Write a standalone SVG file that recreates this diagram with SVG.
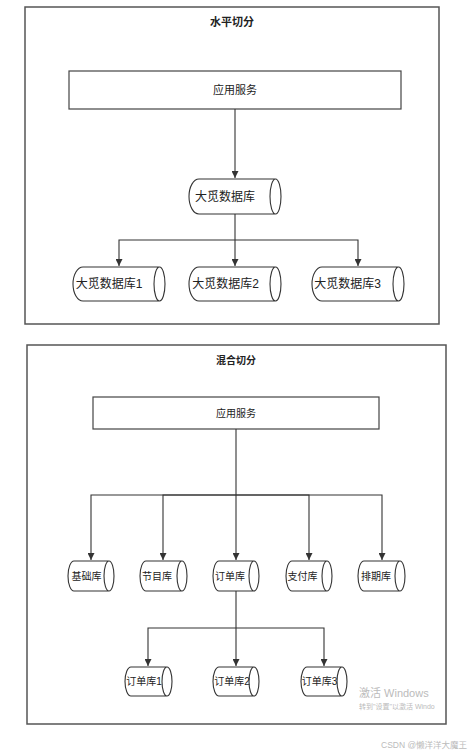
<svg xmlns="http://www.w3.org/2000/svg" width="474" height="754" viewBox="0 0 474 754">
<defs>
<style>
text{font-family:"Liberation Sans","Noto Sans CJK SC",sans-serif;fill:#222}
.frame{fill:#fff;stroke:#555;stroke-width:1.5}
.box{fill:#fff;stroke:#444;stroke-width:1.2}
.cyl{fill:#fff;stroke:#333;stroke-width:1.1}
.edge{fill:none;stroke:#333;stroke-width:1.1}
.t{font-weight:bold;text-anchor:middle}
.m{text-anchor:middle}
.wm{fill:#bbb}
</style>
<marker id="ah" viewBox="0 0 10 10" refX="10" refY="5" markerWidth="7" markerHeight="7" markerUnits="userSpaceOnUse" orient="auto">
<path d="M0,0 L10,5 L0,10 Z" fill="#333"/>
</marker>
</defs>
<rect width="474" height="754" fill="#fff"/>

<g id="frame-horizontal">
<rect class="frame" x="25" y="7" width="414" height="317"/>
<text class="t" x="232" y="26" font-size="11">水平切分</text>
</g>
<g id="app1">
<rect class="box" x="69" y="71" width="332" height="38"/>
<text class="m" x="235" y="94" font-size="11">应用服务</text>
</g>
<g id="db-main">
<path class="cyl" d="M199,179 L275.5,179 A5.5,17.5 0 0 1 275.5,214 L199,214 A10,17.5 0 0 1 199,179 Z M275.5,179 A5.5,17.5 0 0 0 275.5,214"/>
<text class="m" x="225" y="200.5" font-size="12">大觅数据库</text>
</g>
<g id="db1">
<path class="cyl" d="M83,267 L159.5,267 A5.5,17 0 0 1 159.5,301 L83,301 A10,17 0 0 1 83,267 Z M159.5,267 A5.5,17 0 0 0 159.5,301"/>
<text class="m" x="109" y="288" font-size="12">大觅数据库1</text>
</g>
<g id="db2">
<path class="cyl" d="M199,267 L275.5,267 A5.5,17 0 0 1 275.5,301 L199,301 A10,17 0 0 1 199,267 Z M275.5,267 A5.5,17 0 0 0 275.5,301"/>
<text class="m" x="225.5" y="288" font-size="12">大觅数据库2</text>
</g>
<g id="db3">
<path class="cyl" d="M322,267 L398.5,267 A5.5,17 0 0 1 398.5,301 L322,301 A10,17 0 0 1 322,267 Z M398.5,267 A5.5,17 0 0 0 398.5,301"/>
<text class="m" x="347.5" y="288" font-size="12">大觅数据库3</text>
</g>

<g id="frame-mixed">
<rect class="frame" x="27" y="345" width="419" height="379"/>
<text class="t" x="236" y="364" font-size="10">混合切分</text>
</g>
<g id="app2">
<rect class="box" x="93" y="397" width="286" height="32"/>
<text class="m" x="236" y="417" font-size="10">应用服务</text>
</g>
<g id="base">
<path class="cyl" d="M74,561 L109,561 A5,15 0 0 1 109,591 L74,591 A6,15 0 0 1 74,561 Z M109,561 A5,15 0 0 0 109,591"/>
<text class="m" x="86.5" y="579.5" font-size="10">基础库</text>
</g>
<g id="program">
<path class="cyl" d="M146,561 L182,561 A5,15 0 0 1 182,591 L146,591 A6,15 0 0 1 146,561 Z M182,561 A5,15 0 0 0 182,591"/>
<text class="m" x="157" y="579.5" font-size="10">节目库</text>
</g>
<g id="order">
<path class="cyl" d="M219,561 L254,561 A5,15 0 0 1 254,591 L219,591 A6,15 0 0 1 219,561 Z M254,561 A5,15 0 0 0 254,591"/>
<text class="m" x="230" y="579.5" font-size="10">订单库</text>
</g>
<g id="pay">
<path class="cyl" d="M292,561 L327,561 A5,15 0 0 1 327,591 L292,591 A6,15 0 0 1 292,561 Z M327,561 A5,15 0 0 0 327,591"/>
<text class="m" x="302.5" y="579.5" font-size="10">支付库</text>
</g>
<g id="schedule">
<path class="cyl" d="M364,561 L400,561 A5,15 0 0 1 400,591 L364,591 A6,15 0 0 1 364,561 Z M400,561 A5,15 0 0 0 400,591"/>
<text class="m" x="376" y="579.5" font-size="10">排期库</text>
</g>
<g id="order1">
<path class="cyl" d="M131,667 L167,667 A5,14.5 0 0 1 167,696 L131,696 A6,14.5 0 0 1 131,667 Z M167,667 A5,14.5 0 0 0 167,696"/>
<text class="m" x="144" y="685" font-size="10">订单库1</text>
</g>
<g id="order2">
<path class="cyl" d="M219,667 L254,667 A5,14.5 0 0 1 254,696 L219,696 A6,14.5 0 0 1 219,667 Z M254,667 A5,14.5 0 0 0 254,696"/>
<text class="m" x="232" y="685" font-size="10">订单库2</text>
</g>
<g id="order3">
<path class="cyl" d="M307,667 L342,667 A5,14.5 0 0 1 342,696 L307,696 A6,14.5 0 0 1 307,667 Z M342,667 A5,14.5 0 0 0 342,696"/>
<text class="m" x="319.5" y="685" font-size="10">订单库3</text>
</g>

<g id="connectors">
<path class="edge" d="M235,109 L235,178" marker-end="url(#ah)"/>
<path class="edge" d="M235,214 L235,266" marker-end="url(#ah)"/>
<path class="edge" d="M235,240 L119,240 L119,266" marker-end="url(#ah)"/>
<path class="edge" d="M235,240 L358,240 L358,266" marker-end="url(#ah)"/>
<path class="edge" d="M236,429 L236,560" marker-end="url(#ah)"/>
<path class="edge" d="M236,495 L91,495 L91,560" marker-end="url(#ah)"/>
<path class="edge" d="M236,495 L163,495 L163,560" marker-end="url(#ah)"/>
<path class="edge" d="M236,495 L309,495 L309,560" marker-end="url(#ah)"/>
<path class="edge" d="M236,495 L382,495 L382,560" marker-end="url(#ah)"/>
<path class="edge" d="M236,591 L236,666" marker-end="url(#ah)"/>
<path class="edge" d="M236,628 L148,628 L148,666" marker-end="url(#ah)"/>
<path class="edge" d="M236,628 L324,628 L324,666" marker-end="url(#ah)"/>
</g>

<g id="watermarks">
<text class="wm" x="359" y="697" font-size="11">激活 Windows</text>
<text class="wm" x="359" y="709" font-size="7">转到"设置"以激活 Windo</text>
<text class="wm" x="381" y="748" font-size="8.5">CSDN @懒洋洋大魔王</text>
</g>
</svg>
